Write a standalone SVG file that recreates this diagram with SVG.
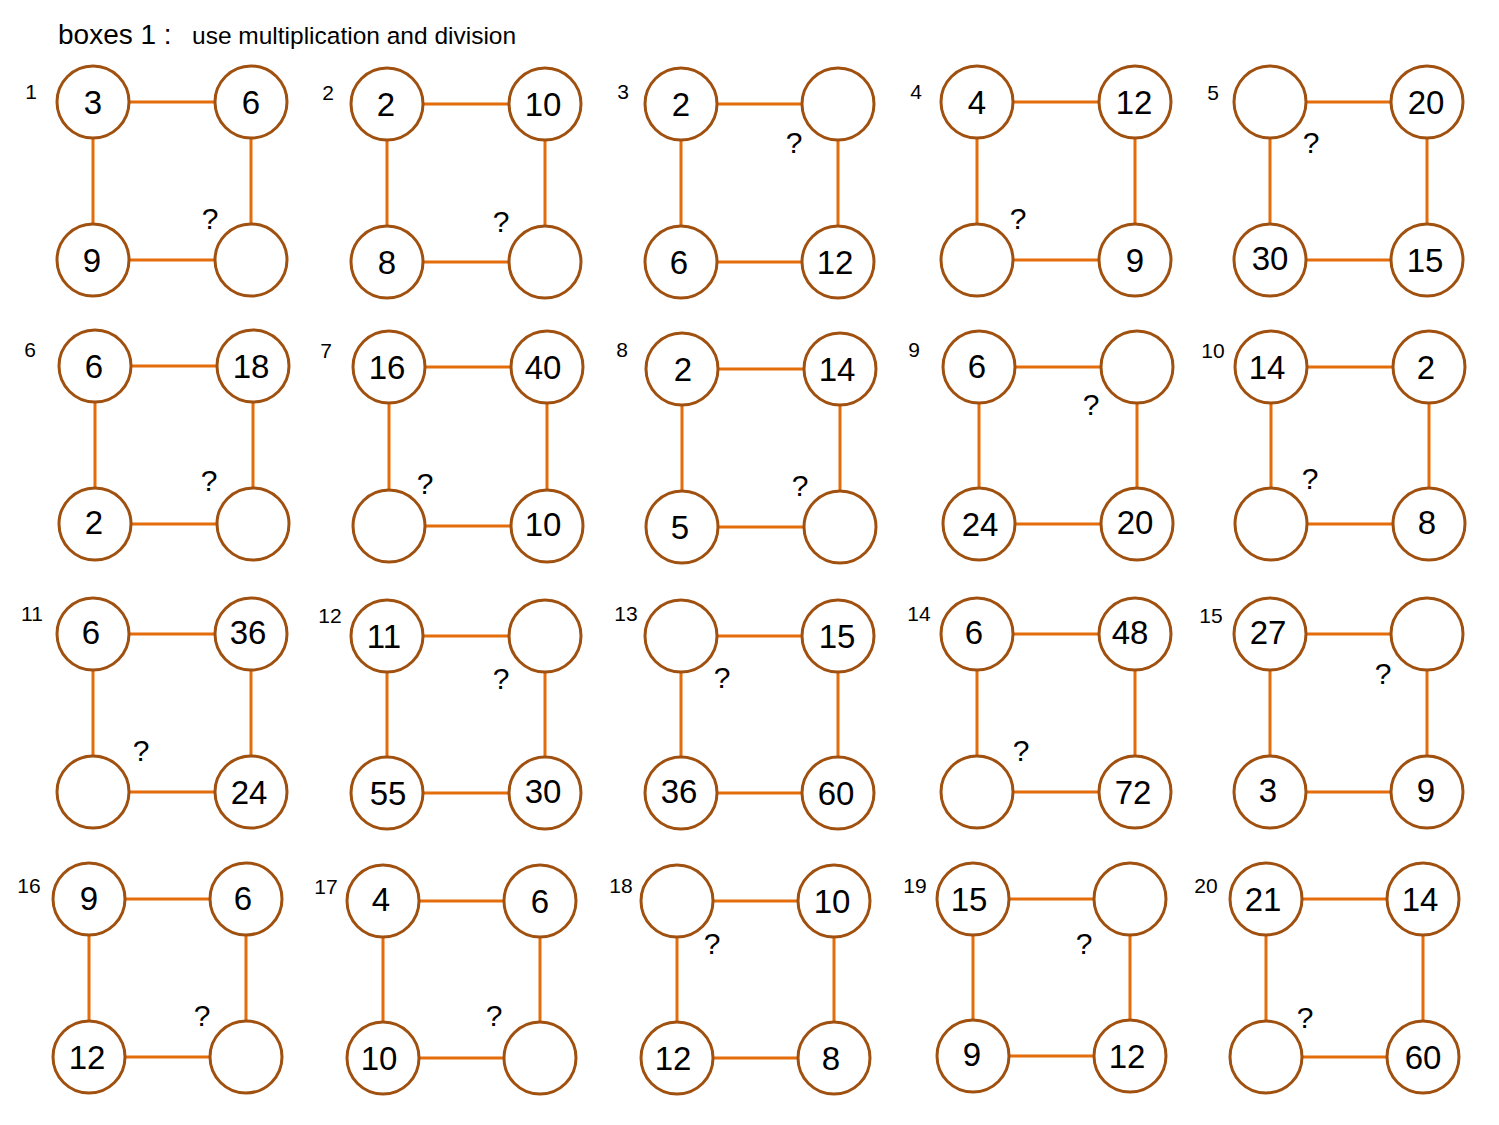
<svg xmlns="http://www.w3.org/2000/svg" width="1499" height="1125" viewBox="0 0 1499 1125">
<style>
text{font-family:"Liberation Sans",Arial,sans-serif;fill:#000}
.n{font-size:33px;text-anchor:middle}
.q{font-size:30px;text-anchor:middle}
.l{font-size:21px;text-anchor:middle}
circle{fill:#fff;stroke:#A0500F;stroke-width:3}
#connectors path{fill:none;stroke:#E46C0A;stroke-width:3}
</style>
<rect width="1499" height="1125" fill="#fff"/>
<g id="title">
<text x="58" y="44" style="font-size:28px">boxes 1 :</text>
<text x="192" y="44" style="font-size:24.5px">use multiplication and division</text>
</g>
<g id="connectors">
<path d="M93,102H251V260H93Z"/>
<path d="M387,104H545V262H387Z"/>
<path d="M681,104H838V262H681Z"/>
<path d="M977,102H1135V260H977Z"/>
<path d="M1270,102H1427V260H1270Z"/>
<path d="M95,366H253V524H95Z"/>
<path d="M389,367H547V526H389Z"/>
<path d="M682,369H840V527H682Z"/>
<path d="M979,367H1137V524H979Z"/>
<path d="M1271,367H1429V524H1271Z"/>
<path d="M93,634H251V792H93Z"/>
<path d="M387,636H545V793H387Z"/>
<path d="M681,636H838V793H681Z"/>
<path d="M977,634H1135V792H977Z"/>
<path d="M1270,634H1427V792H1270Z"/>
<path d="M89,899H246V1057H89Z"/>
<path d="M383,901H540V1058H383Z"/>
<path d="M677,901H834V1058H677Z"/>
<path d="M973,899H1130V1056H973Z"/>
<path d="M1266,899H1423V1057H1266Z"/>
</g>
<g id="p1">
<g id="p1-a"><circle cx="93" cy="102" r="36"/><text class="n" x="93" y="114">3</text></g>
<g id="p1-b"><circle cx="251" cy="102" r="36"/><text class="n" x="251" y="114">6</text></g>
<g id="p1-c"><circle cx="93" cy="260" r="36"/><text class="n" x="92" y="272">9</text></g>
<g id="p1-d"><circle cx="251" cy="260" r="36"/></g>
</g>
<g id="p2">
<g id="p2-a"><circle cx="387" cy="104" r="36"/><text class="n" x="386" y="116">2</text></g>
<g id="p2-b"><circle cx="545" cy="104" r="36"/><text class="n" x="543" y="116">10</text></g>
<g id="p2-c"><circle cx="387" cy="262" r="36"/><text class="n" x="387" y="274">8</text></g>
<g id="p2-d"><circle cx="545" cy="262" r="36"/></g>
</g>
<g id="p3">
<g id="p3-a"><circle cx="681" cy="104" r="36"/><text class="n" x="681" y="116">2</text></g>
<g id="p3-b"><circle cx="838" cy="104" r="36"/></g>
<g id="p3-c"><circle cx="681" cy="262" r="36"/><text class="n" x="679" y="274">6</text></g>
<g id="p3-d"><circle cx="838" cy="262" r="36"/><text class="n" x="835" y="274">12</text></g>
</g>
<g id="p4">
<g id="p4-a"><circle cx="977" cy="102" r="36"/><text class="n" x="977" y="114">4</text></g>
<g id="p4-b"><circle cx="1135" cy="102" r="36"/><text class="n" x="1134" y="114">12</text></g>
<g id="p4-c"><circle cx="977" cy="260" r="36"/></g>
<g id="p4-d"><circle cx="1135" cy="260" r="36"/><text class="n" x="1135" y="272">9</text></g>
</g>
<g id="p5">
<g id="p5-a"><circle cx="1270" cy="102" r="36"/></g>
<g id="p5-b"><circle cx="1427" cy="102" r="36"/><text class="n" x="1426" y="114">20</text></g>
<g id="p5-c"><circle cx="1270" cy="260" r="36"/><text class="n" x="1270" y="270">30</text></g>
<g id="p5-d"><circle cx="1427" cy="260" r="36"/><text class="n" x="1425" y="272">15</text></g>
</g>
<g id="p6">
<g id="p6-a"><circle cx="95" cy="366" r="36"/><text class="n" x="94" y="378">6</text></g>
<g id="p6-b"><circle cx="253" cy="366" r="36"/><text class="n" x="251" y="378">18</text></g>
<g id="p6-c"><circle cx="95" cy="524" r="36"/><text class="n" x="94" y="534">2</text></g>
<g id="p6-d"><circle cx="253" cy="524" r="36"/></g>
</g>
<g id="p7">
<g id="p7-a"><circle cx="389" cy="367" r="36"/><text class="n" x="387" y="379">16</text></g>
<g id="p7-b"><circle cx="547" cy="367" r="36"/><text class="n" x="543" y="379">40</text></g>
<g id="p7-c"><circle cx="389" cy="526" r="36"/></g>
<g id="p7-d"><circle cx="547" cy="526" r="36"/><text class="n" x="543" y="536">10</text></g>
</g>
<g id="p8">
<g id="p8-a"><circle cx="682" cy="369" r="36"/><text class="n" x="683" y="381">2</text></g>
<g id="p8-b"><circle cx="840" cy="369" r="36"/><text class="n" x="837" y="381">14</text></g>
<g id="p8-c"><circle cx="682" cy="527" r="36"/><text class="n" x="680" y="539">5</text></g>
<g id="p8-d"><circle cx="840" cy="527" r="36"/></g>
</g>
<g id="p9">
<g id="p9-a"><circle cx="979" cy="367" r="36"/><text class="n" x="977" y="378">6</text></g>
<g id="p9-b"><circle cx="1137" cy="367" r="36"/></g>
<g id="p9-c"><circle cx="979" cy="524" r="36"/><text class="n" x="980" y="536">24</text></g>
<g id="p9-d"><circle cx="1137" cy="524" r="36"/><text class="n" x="1135" y="534">20</text></g>
</g>
<g id="p10">
<g id="p10-a"><circle cx="1271" cy="367" r="36"/><text class="n" x="1267" y="379">14</text></g>
<g id="p10-b"><circle cx="1429" cy="367" r="36"/><text class="n" x="1426" y="379">2</text></g>
<g id="p10-c"><circle cx="1271" cy="524" r="36"/></g>
<g id="p10-d"><circle cx="1429" cy="524" r="36"/><text class="n" x="1427" y="534">8</text></g>
</g>
<g id="p11">
<g id="p11-a"><circle cx="93" cy="634" r="36"/><text class="n" x="91" y="644">6</text></g>
<g id="p11-b"><circle cx="251" cy="634" r="36"/><text class="n" x="248" y="644">36</text></g>
<g id="p11-c"><circle cx="93" cy="792" r="36"/></g>
<g id="p11-d"><circle cx="251" cy="792" r="36"/><text class="n" x="249" y="804">24</text></g>
</g>
<g id="p12">
<g id="p12-a"><circle cx="387" cy="636" r="36"/><text class="n" x="384" y="648">11</text></g>
<g id="p12-b"><circle cx="545" cy="636" r="36"/></g>
<g id="p12-c"><circle cx="387" cy="793" r="36"/><text class="n" x="388" y="805">55</text></g>
<g id="p12-d"><circle cx="545" cy="793" r="36"/><text class="n" x="543" y="803">30</text></g>
</g>
<g id="p13">
<g id="p13-a"><circle cx="681" cy="636" r="36"/></g>
<g id="p13-b"><circle cx="838" cy="636" r="36"/><text class="n" x="837" y="648">15</text></g>
<g id="p13-c"><circle cx="681" cy="793" r="36"/><text class="n" x="679" y="803">36</text></g>
<g id="p13-d"><circle cx="838" cy="793" r="36"/><text class="n" x="836" y="805">60</text></g>
</g>
<g id="p14">
<g id="p14-a"><circle cx="977" cy="634" r="36"/><text class="n" x="974" y="644">6</text></g>
<g id="p14-b"><circle cx="1135" cy="634" r="36"/><text class="n" x="1130" y="644">48</text></g>
<g id="p14-c"><circle cx="977" cy="792" r="36"/></g>
<g id="p14-d"><circle cx="1135" cy="792" r="36"/><text class="n" x="1133" y="804">72</text></g>
</g>
<g id="p15">
<g id="p15-a"><circle cx="1270" cy="634" r="36"/><text class="n" x="1268" y="644">27</text></g>
<g id="p15-b"><circle cx="1427" cy="634" r="36"/></g>
<g id="p15-c"><circle cx="1270" cy="792" r="36"/><text class="n" x="1268" y="802">3</text></g>
<g id="p15-d"><circle cx="1427" cy="792" r="36"/><text class="n" x="1426" y="802">9</text></g>
</g>
<g id="p16">
<g id="p16-a"><circle cx="89" cy="899" r="36"/><text class="n" x="89" y="910">9</text></g>
<g id="p16-b"><circle cx="246" cy="899" r="36"/><text class="n" x="243" y="910">6</text></g>
<g id="p16-c"><circle cx="89" cy="1057" r="36"/><text class="n" x="87" y="1069">12</text></g>
<g id="p16-d"><circle cx="246" cy="1057" r="36"/></g>
</g>
<g id="p17">
<g id="p17-a"><circle cx="383" cy="901" r="36"/><text class="n" x="381" y="911">4</text></g>
<g id="p17-b"><circle cx="540" cy="901" r="36"/><text class="n" x="540" y="913">6</text></g>
<g id="p17-c"><circle cx="383" cy="1058" r="36"/><text class="n" x="379" y="1070">10</text></g>
<g id="p17-d"><circle cx="540" cy="1058" r="36"/></g>
</g>
<g id="p18">
<g id="p18-a"><circle cx="677" cy="901" r="36"/></g>
<g id="p18-b"><circle cx="834" cy="901" r="36"/><text class="n" x="832" y="913">10</text></g>
<g id="p18-c"><circle cx="677" cy="1058" r="36"/><text class="n" x="673" y="1070">12</text></g>
<g id="p18-d"><circle cx="834" cy="1058" r="36"/><text class="n" x="831" y="1070">8</text></g>
</g>
<g id="p19">
<g id="p19-a"><circle cx="973" cy="899" r="36"/><text class="n" x="969" y="911">15</text></g>
<g id="p19-b"><circle cx="1130" cy="899" r="36"/></g>
<g id="p19-c"><circle cx="973" cy="1056" r="36"/><text class="n" x="972" y="1066">9</text></g>
<g id="p19-d"><circle cx="1130" cy="1056" r="36"/><text class="n" x="1127" y="1068">12</text></g>
</g>
<g id="p20">
<g id="p20-a"><circle cx="1266" cy="899" r="36"/><text class="n" x="1263" y="911">21</text></g>
<g id="p20-b"><circle cx="1423" cy="899" r="36"/><text class="n" x="1420" y="911">14</text></g>
<g id="p20-c"><circle cx="1266" cy="1057" r="36"/></g>
<g id="p20-d"><circle cx="1423" cy="1057" r="36"/><text class="n" x="1423" y="1069">60</text></g>
</g>
<g id="numbers">
<text class="l" x="31" y="99">1</text>
<text class="l" x="328" y="100">2</text>
<text class="l" x="623" y="99">3</text>
<text class="l" x="916" y="99">4</text>
<text class="l" x="1213" y="100">5</text>
<text class="l" x="30" y="357">6</text>
<text class="l" x="326" y="358">7</text>
<text class="l" x="622" y="357">8</text>
<text class="l" x="914" y="357">9</text>
<text class="l" x="1213" y="358">10</text>
<text class="l" x="32" y="621">11</text>
<text class="l" x="330" y="623">12</text>
<text class="l" x="626" y="621">13</text>
<text class="l" x="919" y="621">14</text>
<text class="l" x="1211" y="623">15</text>
<text class="l" x="29" y="893">16</text>
<text class="l" x="326" y="894">17</text>
<text class="l" x="621" y="893">18</text>
<text class="l" x="915" y="893">19</text>
<text class="l" x="1206" y="893">20</text>
</g>
<g id="questions">
<text class="q" x="210" y="229">?</text>
<text class="q" x="501" y="232">?</text>
<text class="q" x="794" y="153">?</text>
<text class="q" x="1018" y="229">?</text>
<text class="q" x="1311" y="153">?</text>
<text class="q" x="209" y="491">?</text>
<text class="q" x="425" y="494">?</text>
<text class="q" x="800" y="496">?</text>
<text class="q" x="1091" y="415">?</text>
<text class="q" x="1310" y="489">?</text>
<text class="q" x="141" y="761">?</text>
<text class="q" x="501" y="689">?</text>
<text class="q" x="722" y="688">?</text>
<text class="q" x="1021" y="761">?</text>
<text class="q" x="1383" y="684">?</text>
<text class="q" x="202" y="1026">?</text>
<text class="q" x="494" y="1026">?</text>
<text class="q" x="712" y="954">?</text>
<text class="q" x="1084" y="954">?</text>
<text class="q" x="1305" y="1028">?</text>
</g>
</svg>
